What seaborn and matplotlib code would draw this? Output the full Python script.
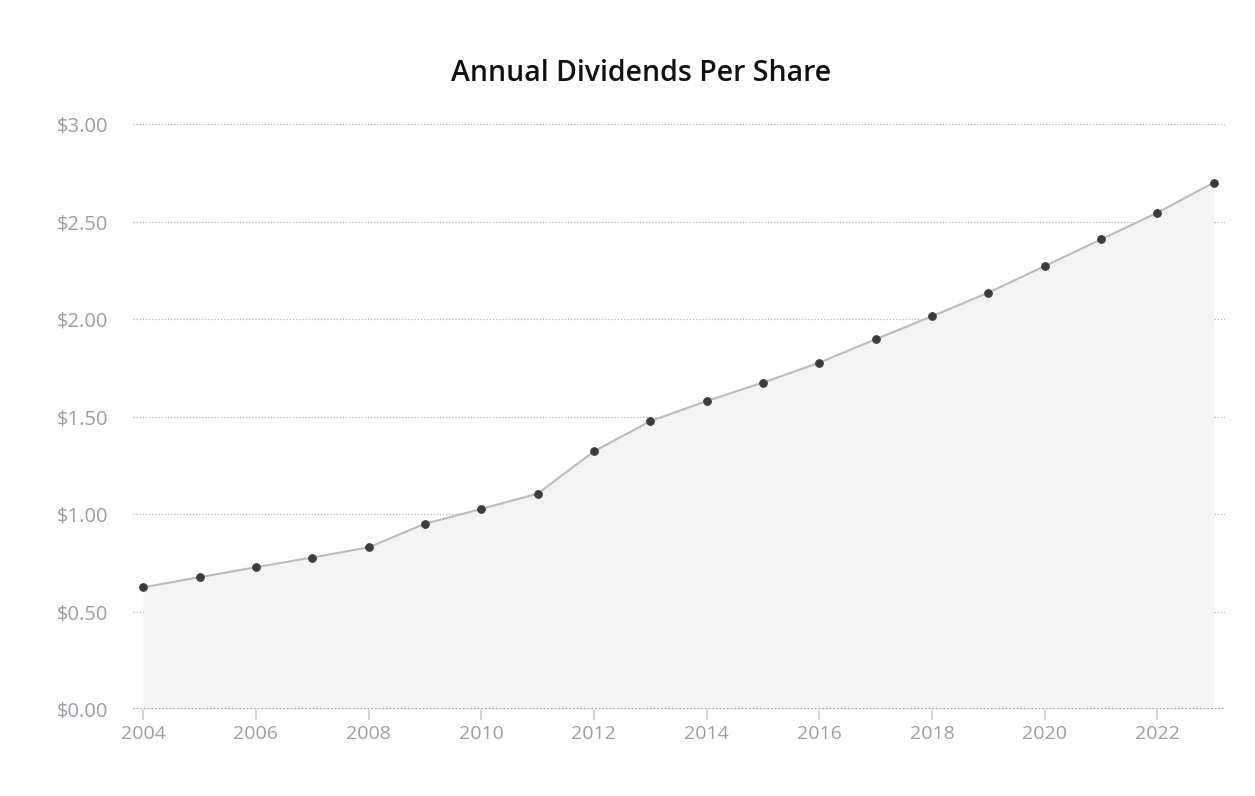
#!/usr/bin/env python3

# Annual dividends per share, area + line chart.

import matplotlib
matplotlib.use('Agg')
import matplotlib.pyplot as plt
import pandas as pd
import seaborn as sns
from matplotlib.ticker import FuncFormatter

years = list(range(2004, 2024))
dividends = [0.625, 0.677, 0.728, 0.778, 0.830, 0.951, 1.027, 1.105, 1.322,
             1.477, 1.580, 1.675, 1.777, 1.897, 2.015, 2.136, 2.272, 2.409,
             2.546, 2.700]
y_ticks = [0.0, 0.5, 1.0, 1.5, 2.0, 2.5, 3.0]
x_ticks = list(range(2004, 2024, 2))
title = 'Annual Dividends Per Share'

df = pd.DataFrame({'year': years, 'dividend': dividends})


def main():
    sns.set_style('white')
    plt.rcParams['font.family'] = ['Open Sans', 'DejaVu Sans']

    fig = plt.figure(figsize=(12.55, 7.96), dpi=100)
    ax = fig.add_axes([0.106, 0.109, 0.870, 0.735])

    ax.fill_between(df['year'], df['dividend'], 0, color='#f4f4f4',
                    linewidth=0, zorder=1)
    sns.lineplot(data=df, x='year', y='dividend', ax=ax, color='#bbbbbb',
                 linewidth=1.5, marker='o', markersize=5.5,
                 markerfacecolor='#3c3c3c', markeredgecolor='#3c3c3c',
                 zorder=3)
    # dotted baseline drawn over the fill
    ax.axhline(0, linestyle=(0, (1, 1.2)), color='#8f8f8f', linewidth=1.2,
               zorder=2)

    ax.set_xlim(2003.82, 2023.2)
    ax.set_ylim(0, 3.0)
    ax.set_yticks(y_ticks)
    ax.set_xticks(x_ticks)
    ax.yaxis.set_major_formatter(FuncFormatter(lambda v, p: '${:.2f}'.format(v)))

    ax.set_axisbelow(True)
    ax.yaxis.grid(True, linestyle=(0, (1, 1.5)), color='#b5b5b5', linewidth=0.9)
    ax.xaxis.grid(False)
    for side in ['top', 'right', 'left', 'bottom']:
        ax.spines[side].set_visible(False)

    ax.tick_params(axis='y', length=0, pad=18, labelsize=14.5,
                   labelcolor='#9a9ea4')
    ax.tick_params(axis='x', length=8, width=1.2, color='#cccccc',
                   direction='out', pad=3, labelsize=14,
                   labelcolor='#9a9ea4', bottom=True)
    ax.set_xlabel('')
    ax.set_ylabel('')

    fig.text(0.511, 0.908, title, ha='center', va='center', fontsize=20.5,
             fontweight='semibold', color='#111111')

    fig.savefig('out.png', dpi=100)


if __name__ == '__main__':
    main()
